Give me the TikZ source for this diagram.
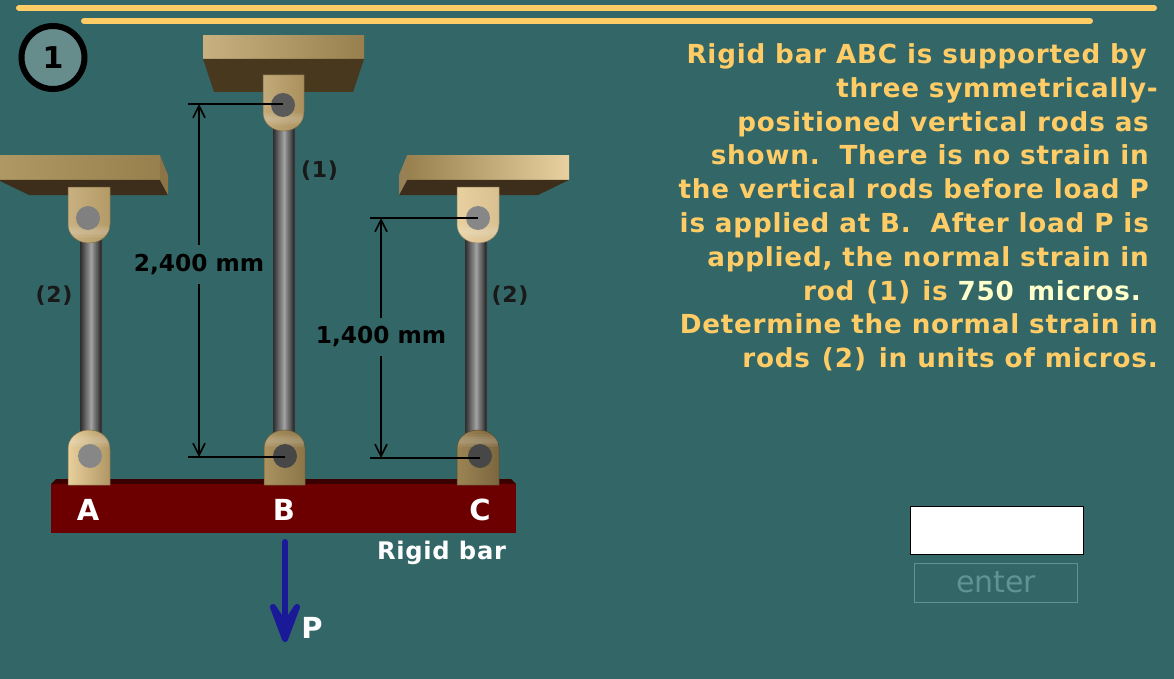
\documentclass[tikz,border=0pt]{standalone}
\usepackage{fontspec}
\setmainfont{DejaVu Sans}
\newfontfamily\bodyfont[LetterSpace=3]{DejaVu Sans Bold}
\newfontfamily\lblfont[LetterSpace=3]{DejaVu Sans Bold}
\usetikzlibrary{arrows.meta}
\definecolor{bgc}{HTML}{336666}
\definecolor{gold}{HTML}{FFCC66}
\definecolor{pale}{HTML}{FFFFCC}
\definecolor{barc}{HTML}{6C0000}
\definecolor{bartop}{HTML}{3A0000}
\definecolor{bluec}{HTML}{1A1A99}
\definecolor{entc}{HTML}{5E9494}
\definecolor{wtopl}{HTML}{C8B080}
\definecolor{wtopr}{HTML}{98804E}
\definecolor{wleftl}{HTML}{B09864}
\definecolor{wrightr}{HTML}{E8D0A0}
\definecolor{dktop}{HTML}{48381E}
\definecolor{dkside}{HTML}{3C2E1A}
\definecolor{sidel}{HTML}{8C7446}
\definecolor{sider}{HTML}{968054}
\definecolor{c1l}{HTML}{C2AA7A}
\definecolor{c1r}{HTML}{AA905C}
\definecolor{c2l}{HTML}{C8B080}
\definecolor{c2r}{HTML}{B49A66}
\definecolor{c3l}{HTML}{E8D0A0}
\definecolor{c3r}{HTML}{D8C090}
\definecolor{c4l}{HTML}{E8D09C}
\definecolor{c4r}{HTML}{B09664}
\definecolor{c5l}{HTML}{AA9260}
\definecolor{c5r}{HTML}{8C7648}
\definecolor{c6l}{HTML}{9C8454}
\definecolor{c6r}{HTML}{7C663E}
\pgfdeclarehorizontalshading{rodshade}{100bp}{
 color(0bp)=(black!82);color(25bp)=(black!82);color(29bp)=(black!76);color(36bp)=(black!62);
 color(44bp)=(black!48);color(50bp)=(black!36);color(56bp)=(black!50);color(64bp)=(black!66);
 color(71bp)=(black!82);color(75bp)=(black!74);color(100bp)=(black!74)}
\tikzset{
 rodst/.style={shading=rodshade},
 dim/.style={line width=1.6pt,black},
 dimarrow/.style={dim,-{Straight Barb[length=12pt,width=12pt,line width=1.6pt]}},
 body/.style={anchor=base east,inner sep=0pt,text=gold,font=\fontsize{26.2}{30}\bodyfont},
 dimlbl/.style={inner sep=0pt,font=\fontsize{23.3}{28}\selectfont\bfseries,text=black},
 rodlbl/.style={inner sep=0pt,font=\fontsize{22}{26}\lblfont,text=black!90},
 barlbl/.style={inner sep=0pt,font=\fontsize{29}{32}\selectfont\bfseries,text=white},
}
% #1 x-left #2 x-right #3 y-top #4 y-bottom #5 left colour #6 right colour
\newcommand\clevisdown[6]{%
 \path[draw=#6!70!black,line width=.5pt,left color=#5,right color=#6]
 (#1,#3) -- (#2,#3) -- (#2,#4-19) .. controls (#2,#4-8) and ({(#1+#2)/2+12},#4) .. ({(#1+#2)/2},#4)
 .. controls ({(#1+#2)/2-12},#4) and (#1,#4-8) .. (#1,#4-19) -- cycle;
 \begin{scope}
 \clip (#1,#3) -- (#2,#3) -- (#2,#4-19) .. controls (#2,#4-8) and ({(#1+#2)/2+12},#4) .. ({(#1+#2)/2},#4)
 .. controls ({(#1+#2)/2-12},#4) and (#1,#4-8) .. (#1,#4-19) -- cycle;
 \foreach \d in {0,1.5,3,4.5} {\fill[white,opacity=.05] (#1,#4-18+\d) rectangle (#2,#4-5-\d);}
 \end{scope}}
\newcommand\clevisup[6]{%
 \path[draw=#6!70!black,line width=.5pt,left color=#5,right color=#6]
 (#1,#4) -- (#2,#4) -- (#2,#3+19) .. controls (#2,#3+8) and ({(#1+#2)/2+12},#3) .. ({(#1+#2)/2},#3)
 .. controls ({(#1+#2)/2-12},#3) and (#1,#3+8) .. (#1,#3+19) -- cycle;
 \begin{scope}
 \clip (#1,#4) -- (#2,#4) -- (#2,#3+19) .. controls (#2,#3+8) and ({(#1+#2)/2+12},#3) .. ({(#1+#2)/2},#3)
 .. controls ({(#1+#2)/2-12},#3) and (#1,#3+8) .. (#1,#3+19) -- cycle;
 \foreach \d in {0,1.5,3,4.5} {\fill[white,opacity=.05] (#1,#3+4+\d) rectangle (#2,#3+17-\d);}
 \end{scope}}
\begin{document}
\begin{tikzpicture}[x=1pt,y=-1pt]
\useasboundingbox (0,0) rectangle (1174,679);
\fill[bgc] (0,0) rectangle (1174,679);
% header rules
\coordinate (r1a) at (19,8); \coordinate (r1b) at (1154,8);
\coordinate (r2a) at (84,21); \coordinate (r2b) at (1090,21);
\draw[gold,line width=6pt,line cap=round] (r1a) -- (r1b);
\draw[gold,line width=6pt,line cap=round] (r2a) -- (r2b);
% number badge
\node[circle,draw=black,line width=6pt,fill=white!25!bgc,minimum size=63pt,inner sep=0pt,font=\fontsize{30}{32}\selectfont\bfseries,text=black] (badge) at (53,57.5) {1};
% rods
\path[rodst] (80,240) rectangle (102,435);
\path[rodst] (273,125) rectangle (295,435);
\path[rodst] (465,240) rectangle (487,435);
% top support
\fill[left color=wtopl,right color=wtopr] (203,35.5) rectangle (364,59);
\fill[dktop] (203,59) -- (364,59) -- (353,92) -- (214,92) -- cycle;
% left support
\fill[left color=wleftl,right color=wtopr] (0,155.5) rectangle (160,180);
\fill[dkside] (0,180) -- (160,180) -- (168,195) -- (29,195) -- (0,181) -- cycle;
\fill[sidel] (160,155.5) -- (168,175) -- (168,195) -- (160,180) -- cycle;
% right support
\fill[left color=wtopr,right color=wrightr] (407,155.5) rectangle (569,180);
\fill[dkside] (407,180) -- (569,180) -- (538,195) -- (399,195) -- cycle;
\fill[sider] (407,155.5) -- (399,175) -- (399,195) -- (407,180) -- cycle;
% rigid bar
\fill[bartop] (51,484) -- (56,479) -- (511,479) -- (516,484) -- cycle;
\fill[barc] (51,484) rectangle (516,533);
% clevises
\clevisdown{263}{304}{75}{131}{c1l}{c1r}
\clevisdown{68}{110}{187}{243}{c2l}{c2r}
\clevisdown{457}{499}{187}{243}{c3l}{c3r}
\clevisup{68}{110}{430}{485}{c4l}{c4r}
\clevisup{264}{305}{430}{485}{c5l}{c5r}
\clevisup{457}{499}{430}{485}{c6l}{c6r}
% pins
\fill[black!65] (283,105) circle (12);
\fill[black!50] (88,218) circle (12);
\fill[black!47] (478,218) circle (12);
\fill[black!47] (90,456) circle (12);
\fill[black!72] (285,456) circle (12);
\fill[black!72] (480,456) circle (12);
% dimensions
\coordinate (d1t) at (199,104); \coordinate (d1b) at (199,457);
\coordinate (d2t) at (381,218); \coordinate (d2b) at (381,458);
\draw[dim] (188,104) -- (283,104);
\draw[dim] (188,457) -- (285,457);
\draw[dim] (370,218) -- (478,218);
\draw[dim] (370,458) -- (480,458);
\node[dimlbl] (l24) at (199,264.5) {2,400 mm};
\node[dimlbl] (l14) at (381,336.5) {1,400 mm};
\draw[dimarrow] (199,245) -- (d1t);
\draw[dimarrow] (199,284) -- (d1b);
\draw[dimarrow] (381,318) -- (d2t);
\draw[dimarrow] (381,356) -- (d2b);
% rod labels
\node[rodlbl] (r1) at (319.5,171) {(1)};
\node[rodlbl] (r2l) at (54,296) {(2)};
\node[rodlbl] (r2r) at (510,296) {(2)};
% bar labels
\node[barlbl] (A) at (88,510) {A};
\node[barlbl] (B) at (284,510) {B};
\node[barlbl] (C) at (480,510) {C};
\node[inner sep=0pt,font=\fontsize{24.2}{28}\lblfont,text=white] (rb) at (441.5,552.5) {Rigid bar};
% load
\coordinate (pa) at (285,542); \coordinate (pb) at (285,639);
\draw[bluec,line width=6pt,line cap=round] (pa) -- (pb);
\draw[bluec,line width=6pt,line cap=round,line join=round,fill=bluec] (273,607) -- (pb) -- (297,607) -- (285,625) -- cycle;
\node[barlbl] (P) at (312,628) {P};
% statement
\node[body] (t1) at (1147,63.5) {Rigid bar ABC is supported by};
\node[body] (t2) at (1158,97.5) {three symmetrically-};
\node[body] (t3) at (1149,131.5) {positioned vertical rods as};
\node[body] (t4) at (1149,164.5) {shown.\ \ There is no strain in};
\node[body] (t5) at (1149,198.5) {the vertical rods before load P};
\node[body] (t6) at (1149,232.5) {is applied at B.\ \ After load P is};
\node[body] (t7) at (1149,266.5) {applied, the normal strain in};
\node[body] (t8) at (1141,300.5) {rod\kern2pt{} (\kern1pt1\kern1pt)\kern2pt{} is \textcolor{pale}{750\kern4pt{} micros.}};
\node[body] (t9) at (1158,333.5) {Determine the normal strain in};
\node[body] (t10) at (1158,367.5) {rods\kern2pt{} (\kern1pt2\kern1pt)\kern3pt{} in units of micros.};
% answer box
\node[draw=black,line width=1pt,fill=white,minimum width=173pt,minimum height=48pt,inner sep=0pt] (ans) at (997,530.5) {};
\node[draw=entc,line width=1pt,minimum width=163pt,minimum height=39pt,inner sep=0pt,text=entc,font=\fontsize{30}{32}\selectfont] (ent) at (996,582.5) {enter};
\end{tikzpicture}
\end{document}
